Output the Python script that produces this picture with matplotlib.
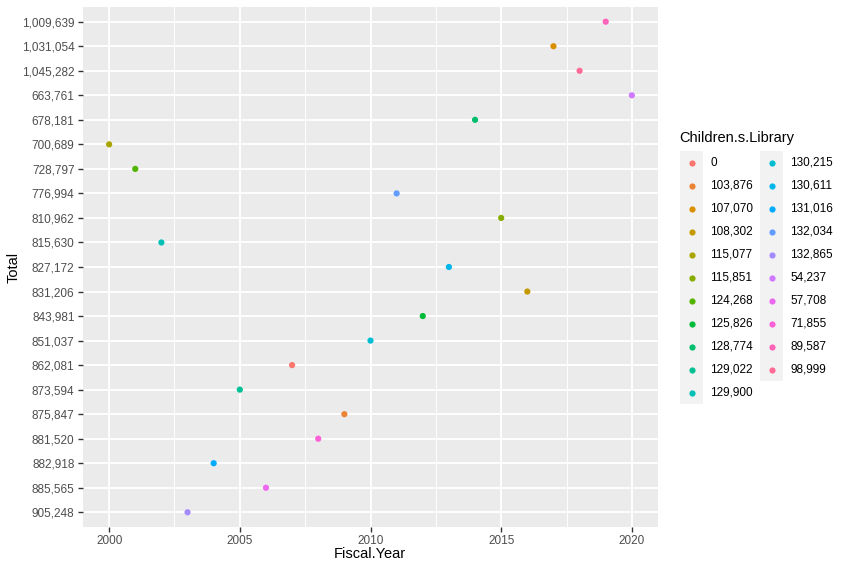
import numpy as np
import matplotlib
matplotlib.use('Agg')
import matplotlib.pyplot as plt
from matplotlib.patches import Rectangle

plt.rcParams['font.family'] = ['Liberation Sans', 'DejaVu Sans']

years = list(range(2000, 2021))
totals = ['700,689', '728,797', '815,630', '905,248', '882,918', '873,594', '885,565',
          '862,081', '881,520', '875,847', '851,037', '776,994', '843,981', '827,172',
          '678,181', '810,962', '831,206', '1,031,054', '1,045,282', '1,009,639', '663,761']
children = ['115,077', '124,268', '129,900', '132,865', '131,016', '129,022', '57,708',
            '0', '71,855', '103,876', '130,215', '132,034', '125,826', '130,611',
            '128,774', '115,851', '108,302', '107,070', '98,999', '89,587', '54,237']

# y levels, bottom to top (as in the reference)
total_levels = ['905,248', '885,565', '882,918', '881,520', '875,847', '873,594', '862,081',
                '851,037', '843,981', '831,206', '827,172', '815,630', '810,962', '776,994',
                '728,797', '700,689', '678,181', '663,761', '1,045,282', '1,031,054', '1,009,639']
child_levels = ['0', '103,876', '107,070', '108,302', '115,077', '115,851', '124,268',
                '125,826', '128,774', '129,022', '129,900', '130,215', '130,611', '131,016',
                '132,034', '132,865', '54,237', '57,708', '71,855', '89,587', '98,999']


def hcl(h, c=100, l=65):
    # polar LUV -> sRGB, like R's hcl()
    xn, yn, zn = 95.047, 100.0, 108.883
    u_ = c * np.cos(np.radians(h))
    v_ = c * np.sin(np.radians(h))
    y = yn * ((l + 16) / 116) ** 3 if l > 8 else yn * l / 903.3
    un = 4 * xn / (xn + 15 * yn + 3 * zn)
    vn = 9 * yn / (xn + 15 * yn + 3 * zn)
    u = u_ / (13 * l) + un
    v = v_ / (13 * l) + vn
    x = 9.0 * y * u / (4 * v)
    z = -x / 3 - 5 * y + 3 * y / v
    x, y, z = x / 100, y / 100, z / 100
    r = 3.240479 * x - 1.537150 * y - 0.498535 * z
    g = -0.969256 * x + 1.875992 * y + 0.041556 * z
    b = 0.055648 * x - 0.204043 * y + 1.057311 * z

    def gam(t):
        t = 1.055 * t ** (1 / 2.4) - 0.055 if t > 0.00304 else 12.92 * t
        return min(max(t, 0), 1)
    return (gam(r), gam(g), gam(b))


n = len(child_levels)
hues = np.linspace(15, 375, n + 1)[:n]
pal = {lev: hcl(h) for lev, h in zip(child_levels, hues)}

W, H = 847, 569
fig = plt.figure(figsize=(W / 100, H / 100), dpi=100)
px = lambda x0, y0, w, h: [x0 / W, 1 - (y0 + h) / H, w / W, h / H]
ax = fig.add_axes(px(83, 7, 575, 520))
ax.set_facecolor('#EBEBEB')
for s in ax.spines.values():
    s.set_visible(False)

ypos = [total_levels.index(t) + 1 for t in totals]
cols = [pal[c] for c in children]
ax.scatter(years, ypos, c=cols, s=20, linewidths=0, zorder=3)

ax.set_xlim(1999, 2021)
ax.set_ylim(0.4, len(total_levels) + 0.6)
ax.set_xticks([2000, 2005, 2010, 2015, 2020])
ax.set_xticks([2002.5, 2007.5, 2012.5, 2017.5], minor=True)
ax.set_yticks(range(1, len(total_levels) + 1))
ax.set_yticklabels(total_levels)
ax.grid(True, which='major', color='white', lw=1.35)
ax.grid(True, which='minor', axis='x', color='white', lw=0.68)
ax.set_axisbelow(True)
ax.tick_params(which='major', length=3.6, width=1.0, color='#333333',
               labelcolor='#4D4D4D', labelsize=8.5, pad=2.5)
ax.tick_params(which='minor', length=0)

# axis titles placed in pixels
fig.text(370 / W, 1 - 554 / H, 'Fiscal.Year', fontsize=10.5, ha='center', va='center')
fig.text(14 / W, 1 - 267 / H, 'Total', fontsize=10.5, ha='center', va='center', rotation=90)

# legend drawn in a pixel-space overlay
lg = fig.add_axes([0, 0, 1, 1])
lg.set_xlim(0, W)
lg.set_ylim(H, 0)
lg.axis('off')
lg.text(679, 138, 'Children.s.Library', fontsize=10.5, va='center', ha='left')
key, top = 23, 151
ncol1 = int(np.ceil(n / 2))
for ci, x0 in enumerate([680, 760]):
    items = child_levels[:ncol1] if ci == 0 else child_levels[ncol1:]
    lg.add_patch(Rectangle((x0, top), key, key * len(items), color='#F2F2F2', lw=0))
    for i, lev in enumerate(items):
        yc = top + key * (i + 0.5)
        lg.scatter([x0 + key / 2], [yc], color=pal[lev], s=20, linewidths=0)
        lg.text(x0 + 30.5, yc, lev, fontsize=8.5, va='center', ha='left')

fig.savefig('out.png', dpi=100)
